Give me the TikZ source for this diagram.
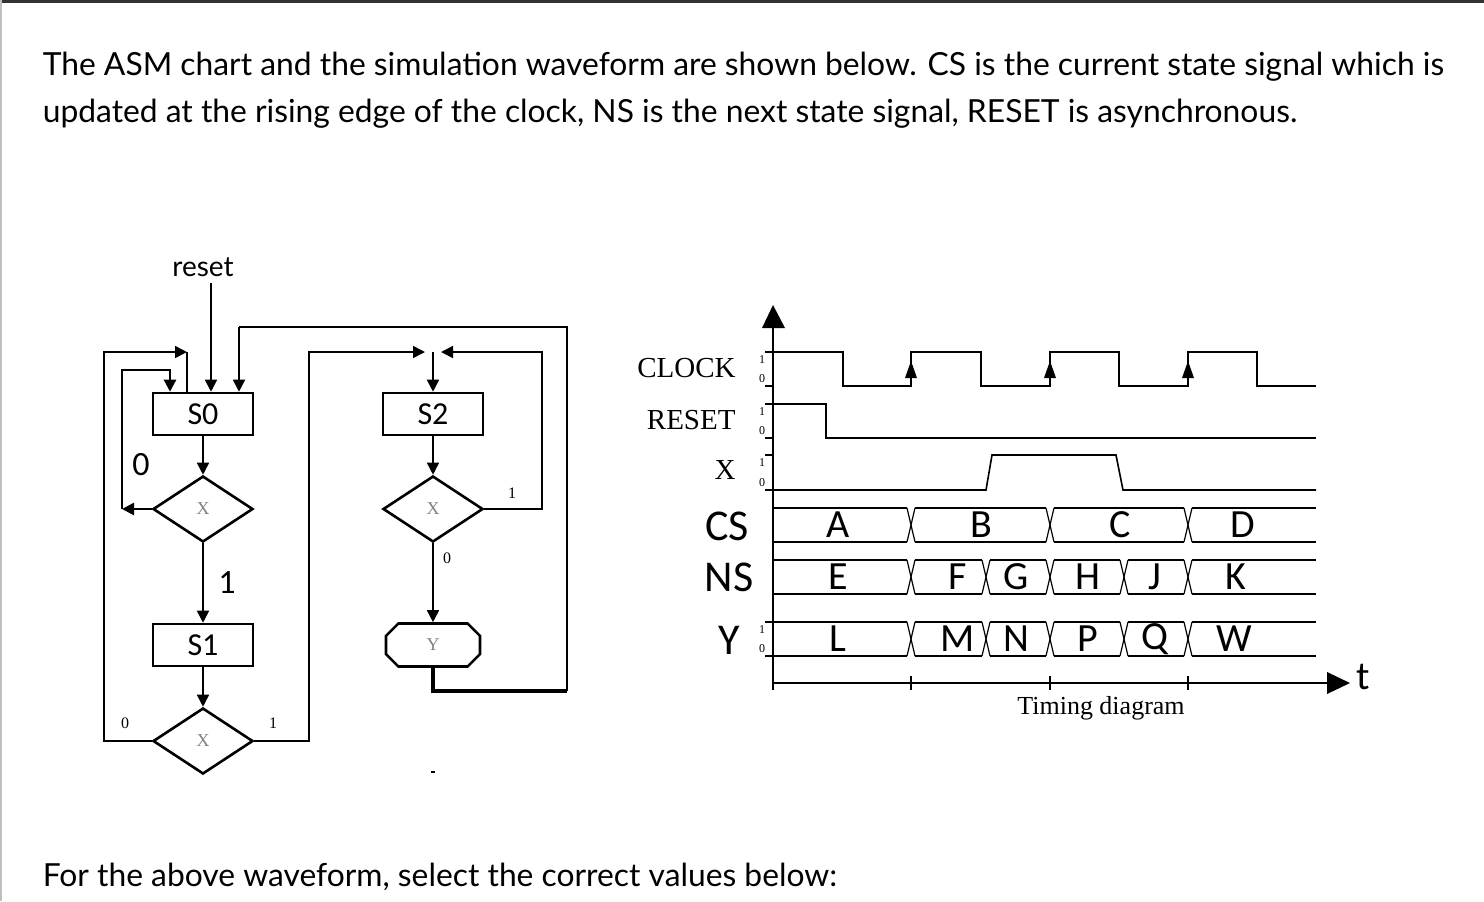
\documentclass[tikz,border=0pt]{standalone}
\usepackage{fontspec}
\setmainfont{Lato}
\newfontfamily\carl{Carlito}
\newfontfamily\tser{Liberation Serif}
\usetikzlibrary{arrows.meta,shapes.geometric,shapes.misc}
\begin{document}
\begin{tikzpicture}[x=0.5pt,y=-0.5pt,line width=0.8pt,
  tri/.style={-{Triangle[width=6pt,length=6pt]}},
  box/.style={draw,line width=1.3pt,minimum width=50pt,minimum height=21pt,inner sep=0pt,font=\carl\fontsize{16}{16}\selectfont},
  dia/.style={draw,line width=1.3pt,diamond,minimum width=50pt,minimum height=33pt,inner sep=0pt,font=\tser\fontsize{9}{9}\selectfont,text=gray},
  sm/.style={font=\tser\fontsize{8}{8}\selectfont},
  wl/.style={font=\tser\fontsize{14.5}{14.5}\selectfont,anchor=east},
  bl/.style={font=\carl\fontsize{22}{22}\selectfont},
  lt/.style={font=\carl\fontsize{20}{20}\selectfont},
  io/.style={font=\tser\fontsize{6}{6}\selectfont,inner sep=0pt}]
\useasboundingbox (0,0) rectangle (1484,901);
\draw[line width=1.5pt,black!80] (0,1) -- (1484,1);
\draw[black!25,line width=0.6pt] (1,0) -- (1,901);
\node[anchor=base west,inner sep=0pt,font=\fontsize{15.9}{18}\selectfont] (h1) at (42,75) {The ASM chart and the simulation waveform are shown below. CS is the current state signal which is};
\node[anchor=base west,inner sep=0pt,font=\fontsize{15.9}{18}\selectfont] (h2) at (42,122) {updated at the rising edge of the clock, NS is the next state signal, RESET is asynchronous.};
\node[anchor=base west,inner sep=0pt,font=\fontsize{15.9}{18}\selectfont] (h3) at (42,886) {For the above waveform, select the correct values below:};
% ASM
\node[font=\fontsize{14}{14}\selectfont] (reset) at (203,267) {reset};
\node[box] (S0) at (203,414) {S0};
\node[dia] (D0) at (203,509) {X};
\node[box] (S1) at (203,645) {S1};
\node[dia] (D1) at (203,741) {X};
\node[box] (S2) at (433,414) {S2};
\node[dia] (D2) at (433,509) {X};
\node[draw,line width=1.3pt,chamfered rectangle,chamfered rectangle xsep=4pt,chamfered rectangle ysep=10pt,minimum width=47pt,minimum height=21.5pt,inner sep=0pt,font=\tser\fontsize{9}{9}\selectfont,text=gray] (Y) at (433,645) {Y};
\draw[tri] (S0) -- (D0);
\draw[tri] (D0) -- (S1);
\draw[tri] (S1) -- (D1);
\draw[tri] (S2) -- (D2);
\draw[tri] (D2) -- (Y);
\draw[tri] (211,283) -- ([xshift=4pt]S0.north);
\draw[tri,line width=1.3pt] (D0.west) -- (122,509);
\draw[tri,line width=1.3pt] (122,509) |- (170,370) -- ([xshift=-16.5pt]S0.north);
\draw[tri] (D1.west) -| (104,352) -- (187,352);
\draw (187,352) -- ([xshift=-8pt]S0.north);
\draw[tri] (D1.east) -| (309,352) -- (425,352);
\draw[tri] (D2.east) -| (542,352) -- (441,352);
\draw[tri] (433,352) -- (S2.north);
\draw[line width=1.8pt] (Y.south) |- (567,691);
\draw (567,691) |- (239,327);
\draw[tri] (239,327) -- ([xshift=18pt]S0.north);
\draw[line width=1pt] (431,772) -- (435,772);
\node[font=\carl\fontsize{17}{17}\selectfont] (l0) at (141,465) {0};
\node[font=\carl\fontsize{17}{17}\selectfont] (l1) at (227,583) {1};
\node[sm] (a0) at (125,723) {0};
\node[sm] (a1) at (273,723) {1};
\node[sm] (b1) at (512,493) {1};
\node[sm] (b0) at (447,558) {0};
% waveform axes
\draw (773,690) -- (773,325);
\fill (773,305) -- (762,328) -- (785,328) -- cycle;
\draw (773,683) -- (1330,683);
\fill (1350,683) -- (1327,672) -- (1327,694) -- cycle;
\foreach \x in {911,1050,1188} \draw (\x,676) -- (\x,690);
\node[lt] (t) at (1363,677) {t};
\node[font=\tser\fontsize{13}{13}\selectfont] (td) at (1101,708) {Timing diagram};
% labels
\node[wl] (lc) at (743,368) {CLOCK};
\node[wl] (lr) at (743,420) {RESET};
\node[wl] (lx) at (743,470) {X};
\node[bl] (lcs) at (727,526) {CS};
\node[bl] (lns) at (729,577) {NS};
\node[bl] (ly) at (729,640) {Y};
\foreach \yt/\yb in {352/386,404/438,455/490,622/656}{
  \node[io] at (762,\yt+8) {1};
  \node[io] at (762,\yb-7) {0};
  \draw[line width=0.6pt] (765,\yt) -- (773,\yt);
  \draw[line width=0.6pt] (765,\yb) -- (773,\yb);
}
% clock
\draw (773,352) -- (843,352) -- (843,386) -- (911,386) -- (911,352) -- (981,352) -- (981,386) -- (1050,386) -- (1050,352) -- (1119,352) -- (1119,386) -- (1188,386) -- (1188,352) -- (1257,352) -- (1257,386) -- (1316,386);
\foreach \x in {911,1050,1188} \fill (\x,361) -- (\x-6,378) -- (\x+6,378) -- cycle;
% reset
\draw (773,404) -- (826,404) -- (826,438) -- (1316,438);
% x
\draw (773,490) -- (986,490) -- (992,455) -- (1116,455) -- (1123,490) -- (1316,490);
% buses
\foreach \yt/\yb/\tr in {508/542/{911,1050,1188},560/594/{911,986,1050,1124,1188},622/656/{911,986,1050,1124,1188}}{
  \draw (773,\yt) -- (1316,\yt);
  \draw (773,\yb) -- (1316,\yb);
  \foreach \x in \tr {
    \fill[white] (\x-4,\yt-1) rectangle (\x+4,\yb+1);
    \draw[line width=0.6pt] (\x-4,\yt) -- (\x+4,\yb);
    \draw[line width=0.6pt] (\x-4,\yb) -- (\x+4,\yt);
  }
}
\foreach \x/\s in {838/A,981/B,1120/C,1243/D} \node[lt] at (\x,525) {\s};
\foreach \x/\s in {838/E,958/F,1016/G,1088/H,1155/J,1236/K} \node[lt] at (\x,577) {\s};
\foreach \x/\s in {838/L,958/M,1016/N,1088/P,1155/Q,1234/W} \node[lt] at (\x,639) {\s};
\end{tikzpicture}
\end{document}
